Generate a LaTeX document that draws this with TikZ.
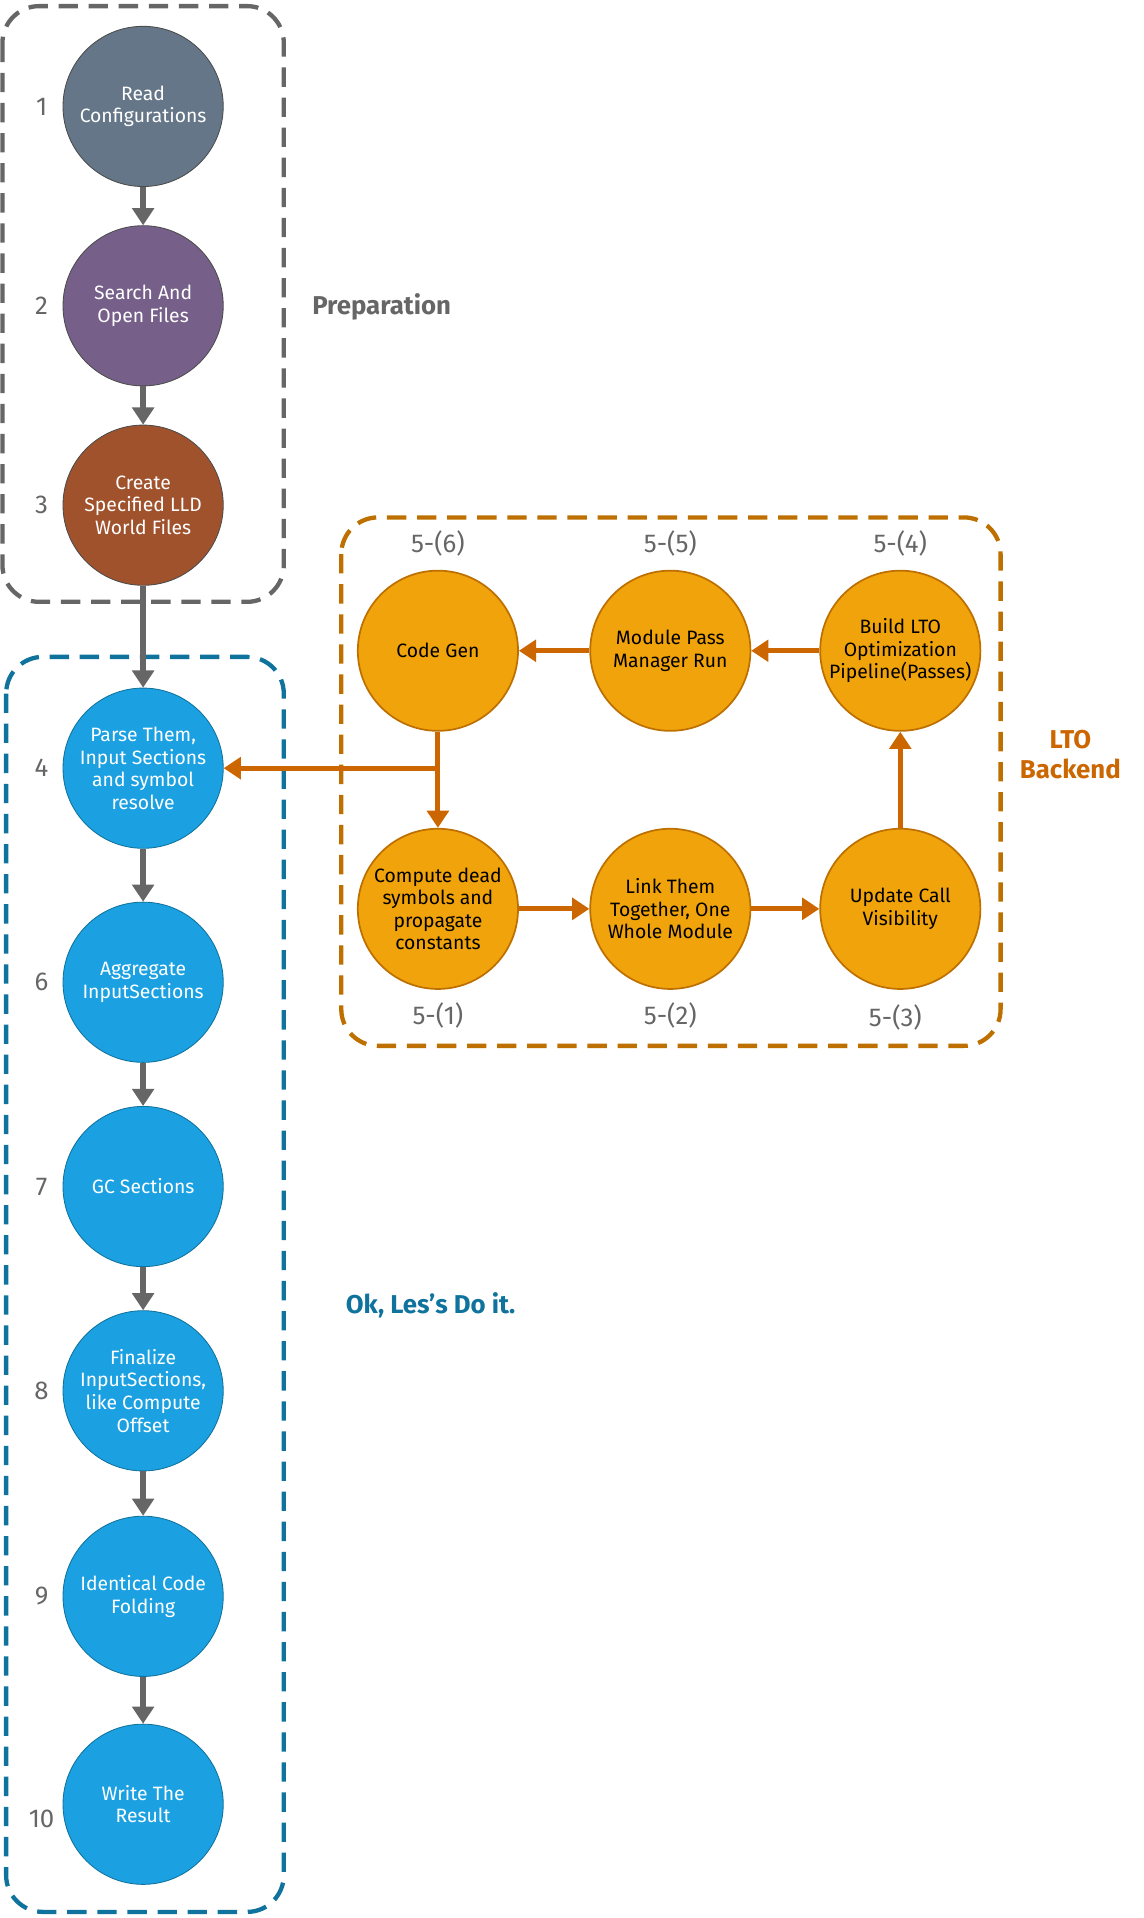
\documentclass[tikz,border=0pt]{standalone}
\usepackage{fontspec}
\setmainfont{Fira Sans}
\usetikzlibrary{arrows.meta}
\definecolor{cgray}{HTML}{647687}
\definecolor{cpurp}{HTML}{76608A}
\definecolor{cbrown}{HTML}{A0522D}
\definecolor{cblue}{HTML}{1BA1E2}
\definecolor{cblueln}{HTML}{10739E}
\definecolor{corange}{HTML}{F0A30A}
\definecolor{corln}{HTML}{BD7000}
\definecolor{carrow}{HTML}{CC6600}
\definecolor{cgrayln}{HTML}{666666}
\begin{document}
\begin{tikzpicture}[x=0.02cm,y=-0.02cm,
  stp/.style={circle,minimum size=2.62cm,inner sep=0pt},
  every label/.style={align=center,font=\fontsize{9}{10.5}\selectfont,inner sep=0pt},
  lnode/.style={stp,label={[text=white]center:#1}},
  lto/.style={stp,fill=corange,draw=corln,thick,label={[text=black]center:#1}},
  num/.style={text=cgrayln,font=\fontsize{12}{13}\selectfont},
  garrow/.style={draw=cgrayln,line width=2.6pt,-{Triangle[length=8pt,width=10pt]}},
  oarrow/.style={draw=carrow,line width=2.4pt,-{Triangle[length=8pt,width=10pt]}},
  dbox/.style={line width=2pt,rounded corners=0.6cm,dash pattern=on 9pt off 5pt}]
\useasboundingbox (0,0) rectangle (935,1568);
% boxes
\draw[dbox,draw=cgrayln] (2,5) rectangle (232,492);
\draw[dbox,draw=cblueln] (5,537) rectangle (232,1563);
\draw[dbox,draw=corln] (279,423) rectangle (818,855);
\node[text=cgrayln,font=\bfseries\fontsize{12}{13}\selectfont] (lprep) at (312,251) {Preparation};
\node[text=cblueln,font=\bfseries\fontsize{12}{13}\selectfont] (lok) at (352,1067) {Ok, Les's Do it.};
\node[text=carrow,font=\bfseries\fontsize{12}{14}\selectfont,align=center] (llto) at (875,617) {LTO\\Backend};
% left column
\node[lnode={Read\\Configurations},fill=cgray,draw=black!70] (n1) at (117,87) {};
\node[lnode={Search And\\Open Files},fill=cpurp,draw=black!70] (n2) at (117,250) {};
\node[lnode={Create\\Specified LLD\\World Files},fill=cbrown,draw=black!70] (n3) at (117,413) {};
\node[lnode={Parse Them,\\Input Sections\\and symbol\\resolve},fill=cblue,draw=cblueln] (n4) at (117,628) {};
\node[lnode={Aggregate\\InputSections},fill=cblue,draw=cblueln] (n6) at (117,803) {};
\node[lnode={GC Sections},fill=cblue,draw=cblueln] (n7) at (117,970) {};
\node[lnode={Finalize\\InputSections,\\like Compute\\Offset},fill=cblue,draw=cblueln] (n8) at (117,1137) {};
\node[lnode={Identical Code\\Folding},fill=cblue,draw=cblueln] (n9) at (117,1305) {};
\node[lnode={Write The\\Result},fill=cblue,draw=cblueln] (n10) at (117,1475) {};
\foreach \n/\t/\y in {k1/1/87,k2/2/250,k3/3/413,k4/4/628,k6/6/803,k7/7/970,k8/8/1137,k9/9/1305,k10/10/1487}
  \node[num] (\n) at (34,\y) {\t};
\draw[garrow] (n1) -- (n2);
\draw[garrow] (n2) -- (n3);
\draw[garrow] (n3) -- (n4);
\draw[garrow] (n4) -- (n6);
\draw[garrow] (n6) -- (n7);
\draw[garrow] (n7) -- (n8);
\draw[garrow] (n8) -- (n9);
\draw[garrow] (n9) -- (n10);
% LTO
\node[lto={Code Gen}] (cg) at (358,532) {};
\node[lto={Module Pass\\Manager Run}] (mp) at (548,532) {};
\node[lto={Build LTO\\Optimization\\Pipeline(Passes)}] (bl) at (736,532) {};
\node[lto={Compute dead\\symbols and\\propagate\\constants}] (cd) at (358,743) {};
\node[lto={Link Them\\Together, One\\Whole Module}] (lk) at (548,743) {};
\node[lto={Update Call\\Visibility}] (uc) at (736,743) {};
\foreach \n/\t/\x/\y in {l6/5-(6)/358/444,l5/5-(5)/548/444,l4/5-(4)/736/444,l1/5-(1)/358/830,l2/5-(2)/548/830,l3/5-(3)/732/832}
  \node[num] (\n) at (\x,\y) {\t};
\draw[oarrow] (bl) -- (mp);
\draw[oarrow] (mp) -- (cg);
\draw[oarrow] (cg) -- (cd);
\coordinate (br) at (358,628);
\draw[oarrow] (br) -- (n4);
\draw[oarrow] (cd) -- (lk);
\draw[oarrow] (lk) -- (uc);
\draw[oarrow] (uc) -- (bl);
\end{tikzpicture}
\end{document}
